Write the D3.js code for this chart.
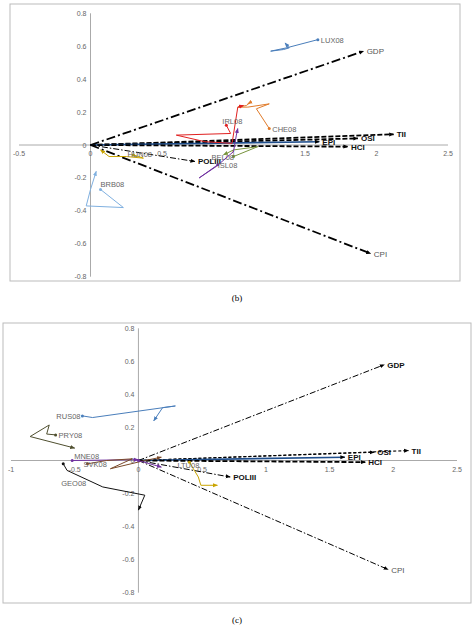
<!DOCTYPE html><html><head><meta charset="utf-8"><script src="https://cdn.jsdelivr.net/npm/d3@7"></script>
<style>body{margin:0;background:#fff}</style></head><body><svg id="s" width="474" height="629"></svg>
<script>
const xTicksB=[-0.5,0,0.5,1,1.5,2,2.5];
const xTicksC=[-1,-0.5,0,0.5,1,1.5,2,2.5];
const yTicks=[0.8,0.6,0.4,0.2,0,-0.2,-0.4,-0.6,-0.8];
const varsB=[["GDP",1.91,0.57,"dd",false],["CPI",1.96,-0.66,"dd",false],["TII",2.12,0.065,"da",true],["OSI",1.87,0.04,"da",true],["EPI",1.6,0.02,"so",true],["HCI",1.8,-0.01,"da",true],["POLIII",0.73,-0.1,"dd2",true]];
const varsC=[["GDP",1.93,0.58,"dd2",true],["CPI",1.96,-0.66,"dd2",false],["TII",2.12,0.06,"da2",true],["OSI",1.85,0.05,"da2",true],["EPI",1.62,0.02,"so",true],["HCI",1.78,-0.01,"da",true],["POLIII",0.72,-0.1,"dd2",true]];
const countriesB=[
 ["LUX08","#4a7ebb",[[1.59,0.64],[1.37,0.59],[1.26,0.57],[1.35,0.58],[1.39,0.59],[1.36,0.62]]],
 ["CHE08","#e07b2a",[[1.25,0.1],[1.16,0.22],[1.25,0.25],[1.1,0.23],[1.03,0.23],[1.09,0.24],[1.12,0.26],[1.1,0.25]]],
 ["IRL08","#e02020",[[0.95,0.12],[0.98,0.07],[0.6,0.06],[0.8,0.02],[0.99,0.01],[1.03,0.23],[1.07,0.24]]],
 ["BEL08","#77933c",[[1.0,-0.07],[1.17,-0.01],[1.0,-0.03],[0.93,-0.06]]],
 ["ISL08","#7030a0",[[0.89,-0.12],[0.76,-0.2],[0.88,-0.13],[1.0,-0.04],[1.02,0.06],[1.03,0.1]]],
 ["HUN08","#c9a400",[[0.3,-0.06],[0.37,-0.08],[0.25,-0.07],[0.13,-0.07],[0.07,-0.03]]],
 ["BRB08","#7fb0e0",[[0.07,-0.27],[0.23,-0.38],[-0.03,-0.37],[0.0,-0.27],[0.04,-0.16]]]];
const countriesC=[
 ["RUS08","#4a7ebb",[[-0.44,0.27],[-0.36,0.26],[0.29,0.33],[0.19,0.32],[0.12,0.24]]],
 ["PRY08","#4f4f2f",[[-0.65,0.155],[-0.72,0.16],[-0.7,0.215],[-0.85,0.145],[-0.5,0.075]]],
 ["MNE08","#7030a0",[[-0.52,0.0],[0.0,0.005]]],
 ["SVK08","#7b4a2a",[[-0.4,-0.02],[-0.25,0.0],[-0.05,0.01],[-0.22,-0.05],[0.05,0.0],[0.18,0.02]]],
 ["GEO08","#111",[[-0.59,-0.02],[-0.56,-0.06],[-0.28,-0.16],[0.05,-0.21],[0.0,-0.3]]],
 ["LTU08","#c9a400",[[0.4,-0.01],[0.47,-0.1],[0.49,-0.15],[0.62,-0.15]]],
 ["","#7030a0",[[0.0,0.0],[0.18,-0.04]]]];
const svg=d3.select("#s");
const defs=svg.append("defs");
function marker(id,c,s){defs.append("marker").attr("id",id).attr("viewBox","0 0 10 10").attr("refX",9).attr("refY",5).attr("markerUnits","userSpaceOnUse").attr("markerWidth",s).attr("markerHeight",s).attr("orient","auto").append("path").attr("d","M0,1L10,5L0,9z").attr("fill",c);}
marker("mk","#000",5);
const lbl={RUS08:[-26,3],GEO08:[-2,22],IRL08:[-4,-1],BEL08:[-22,3],ISL08:[0,3],HUN08:[-6,2],BRB08:[0,-2],MNE08:[2,-2],SVK08:[-4,3],LTU08:[-12,6],LUX08:[3,3],CHE08:[3,3],PRY08:[3,3]};
function panel(o){
 const g=svg.append("g");
 g.append("rect").attr("x",o.fx0).attr("y",o.fy0).attr("width",o.fx1-o.fx0).attr("height",o.fy1-o.fy0).attr("fill","none").attr("stroke","#bbb");
 const x=d3.scaleLinear().domain([o.xd[0],2.5]).range(o.xr), y=d3.scaleLinear().domain([-0.8,0.8]).range(o.yr);
 g.append("line").attr("x1",x(o.xd[0])).attr("x2",x(2.5)).attr("y1",y(0)).attr("y2",y(0)).attr("stroke","#aaa");
 g.append("line").attr("x1",x(0)).attr("x2",x(0)).attr("y1",y(0.8)).attr("y2",y(-0.8)).attr("stroke","#aaa");
 o.xt.forEach(t=>g.append("text").attr("x",x(t)).attr("y",y(0)+11).attr("text-anchor","middle").attr("font-size",7).attr("fill","#666").attr("font-family","Liberation Sans").text(t===0?"0":t));
 yTicks.forEach(t=>g.append("text").attr("x",x(0)-4).attr("y",y(t)+2.5).attr("text-anchor","end").attr("font-size",7).attr("fill","#666").attr("font-family","Liberation Sans").text(t===0?"0":t));
 const dash={dd:"9,3,2,3",dd2:"6,2,1.5,2",da:"5,2",da2:"3,2",so:null};
 const sw={dd:1.8,dd2:1,da:1.8,da2:1.1,so:1.6};
 o.vars.forEach(v=>{
  g.append("line").attr("x1",x(0)).attr("y1",y(0)).attr("x2",x(v[1])).attr("y2",y(v[2])).attr("stroke",v[3]==="so"?"#1f4e8c":"#000").attr("stroke-width",sw[v[3]]).attr("stroke-dasharray",dash[v[3]]).attr("marker-end","url(#mk)");
  g.append("text").attr("x",x(v[1])+3).attr("y",y(v[2])+3).attr("font-size",8).attr("font-weight",v[4]?"bold":"normal").attr("fill",v[4]?"#111":"#555").attr("font-family","Liberation Sans").text(v[0]);
 });
 o.cs.forEach((c,i)=>{
  const id="m"+o.id+i; marker(id,c[1],5);
  g.append("path").attr("d",d3.line().x(d=>x(d[0])).y(d=>y(d[1]))(c[2])).attr("fill","none").attr("stroke",c[1]).attr("stroke-width",1).attr("marker-end","url(#"+id+")");
  g.append("circle").attr("cx",x(c[2][0][0])).attr("cy",y(c[2][0][1])).attr("r",1.5).attr("fill",c[1]);
  if(c[0]){const lx=c[2][0]; const d=lbl[c[0]]||[3,3];
   g.append("text").attr("x",x(lx[0])+d[0]).attr("y",y(lx[1])+d[1]).attr("font-size",7.5).attr("fill","#666").attr("font-family","Liberation Sans").text(c[0]);}
 });
 svg.append("text").attr("x",237).attr("y",o.cap).attr("text-anchor","middle").attr("font-size",9).attr("font-family","Liberation Serif").text(o.capt);
}
panel({id:"b",fx0:10,fx1:460,fy0:4,fy1:281,xd:[-0.5],xr:[19,448],yr:[276.7,13.3],xt:xTicksB,vars:varsB,cs:countriesB,cap:301,capt:"(b)"});
panel({id:"c",fx0:3,fx1:471,fy0:323,fy1:603,xd:[-1],xr:[11,457],yr:[592.7,328.3],xt:xTicksC,vars:varsC,cs:countriesC,cap:623,capt:"(c)"});
</script></body></html>
